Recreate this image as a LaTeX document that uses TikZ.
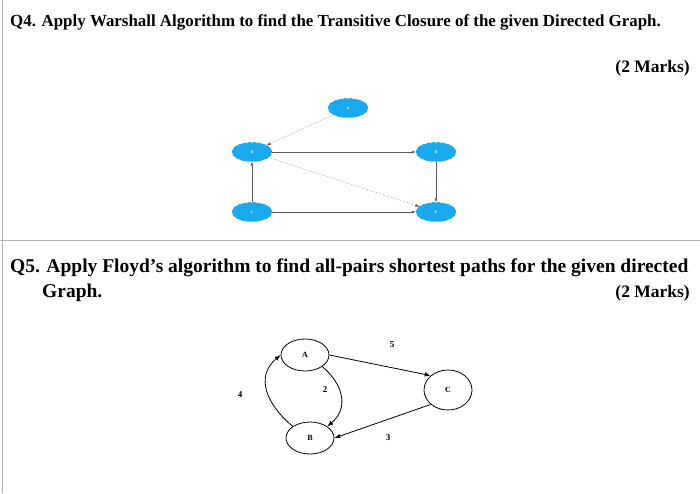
\documentclass[tikz,border=0pt]{standalone}
\usepackage{fontspec}
\setmainfont{Liberation Serif}
\usetikzlibrary{shapes.geometric,arrows.meta}
\definecolor{nb}{RGB}{25,170,240}
\begin{document}
\begin{tikzpicture}[x=1pt,y=-1pt,
 bn/.style={ellipse,fill=nb,draw=nb!80!black,densely dashed,minimum width=40pt,minimum height=19pt,inner sep=0pt,font=\fontsize{4}{4}\selectfont\bfseries,text=white},
 e1/.style={-{Latex[length=4pt]},gray!70!black,thin},
 e1d/.style={e1,densely dotted},
 wn/.style={ellipse,draw,thick,minimum width=48pt,minimum height=32pt,inner sep=0pt,font=\fontsize{8}{8}\selectfont\bfseries},
 e2/.style={-{Latex[length=6pt]},thick},
 lb/.style={font=\fontsize{9}{9}\selectfont\bfseries},
 tx/.style={font=\fontsize{16.9}{19}\selectfont\bfseries,inner sep=0pt},
 tq/.style={font=\fontsize{19.5}{21}\selectfont\bfseries,inner sep=0pt},
 tm/.style={font=\fontsize{17.5}{19}\selectfont\bfseries,inner sep=0pt}]
\useasboundingbox (0,0) rectangle (700,493);
\draw[gray!60] (2,0) -- (2,493);
\draw[gray!60] (0,240) -- (700,240);
\node[tx,anchor=west] (q4) at (10,22) {Q4. Apply Warshall Algorithm to find the Transitive Closure of the given Directed Graph.};
\node[tm,anchor=east] (m4) at (690,68) {(2 Marks)};
\node[bn] (A) at (348,108) {A};
\node[bn] (B) at (252,152) {B};
\node[bn] (D) at (436,152) {D};
\node[bn] (C) at (252,212) {C};
\node[bn] (E) at (436,212) {E};
\draw[e1d] (A) -- (B);
\draw[e1] (B) -- (D);
\draw[e1d] (B) -- (E);
\draw[e1] (D) -- (E);
\draw[e1] (C) -- (B);
\draw[e1] (C) -- (E);
\node[tq,anchor=west] (q5) at (10,268) {Q5. Apply Floyd’s algorithm to find all-pairs shortest paths for the given directed};
\node[tq,anchor=west] (g) at (42,293) {Graph.};
\node[tm,anchor=east] (m5) at (690,293) {(2 Marks)};
\node[wn] (wA) at (305,355) {A};
\node[wn] (wB) at (310,438) {B};
\node[wn,minimum height=40pt] (wC) at (448,390) {C};
\draw[e2] (wA.east) -- (wC.north west);
\draw[e2] (wC.south west) -- (wB.east);
\draw[e2] (wA.south east) to[out=-40,in=40,looseness=1.2] (wB.north east);
\draw[e2] (wB.north west) to[out=140,in=-140,looseness=1.2] (wA.west);
\node[lb] (l5) at (392,345) {5};
\node[lb] (l2) at (325,390) {2};
\node[lb] (l4) at (240,395) {4};
\node[lb] (l3) at (388,438) {3};
\end{tikzpicture}
\end{document}
